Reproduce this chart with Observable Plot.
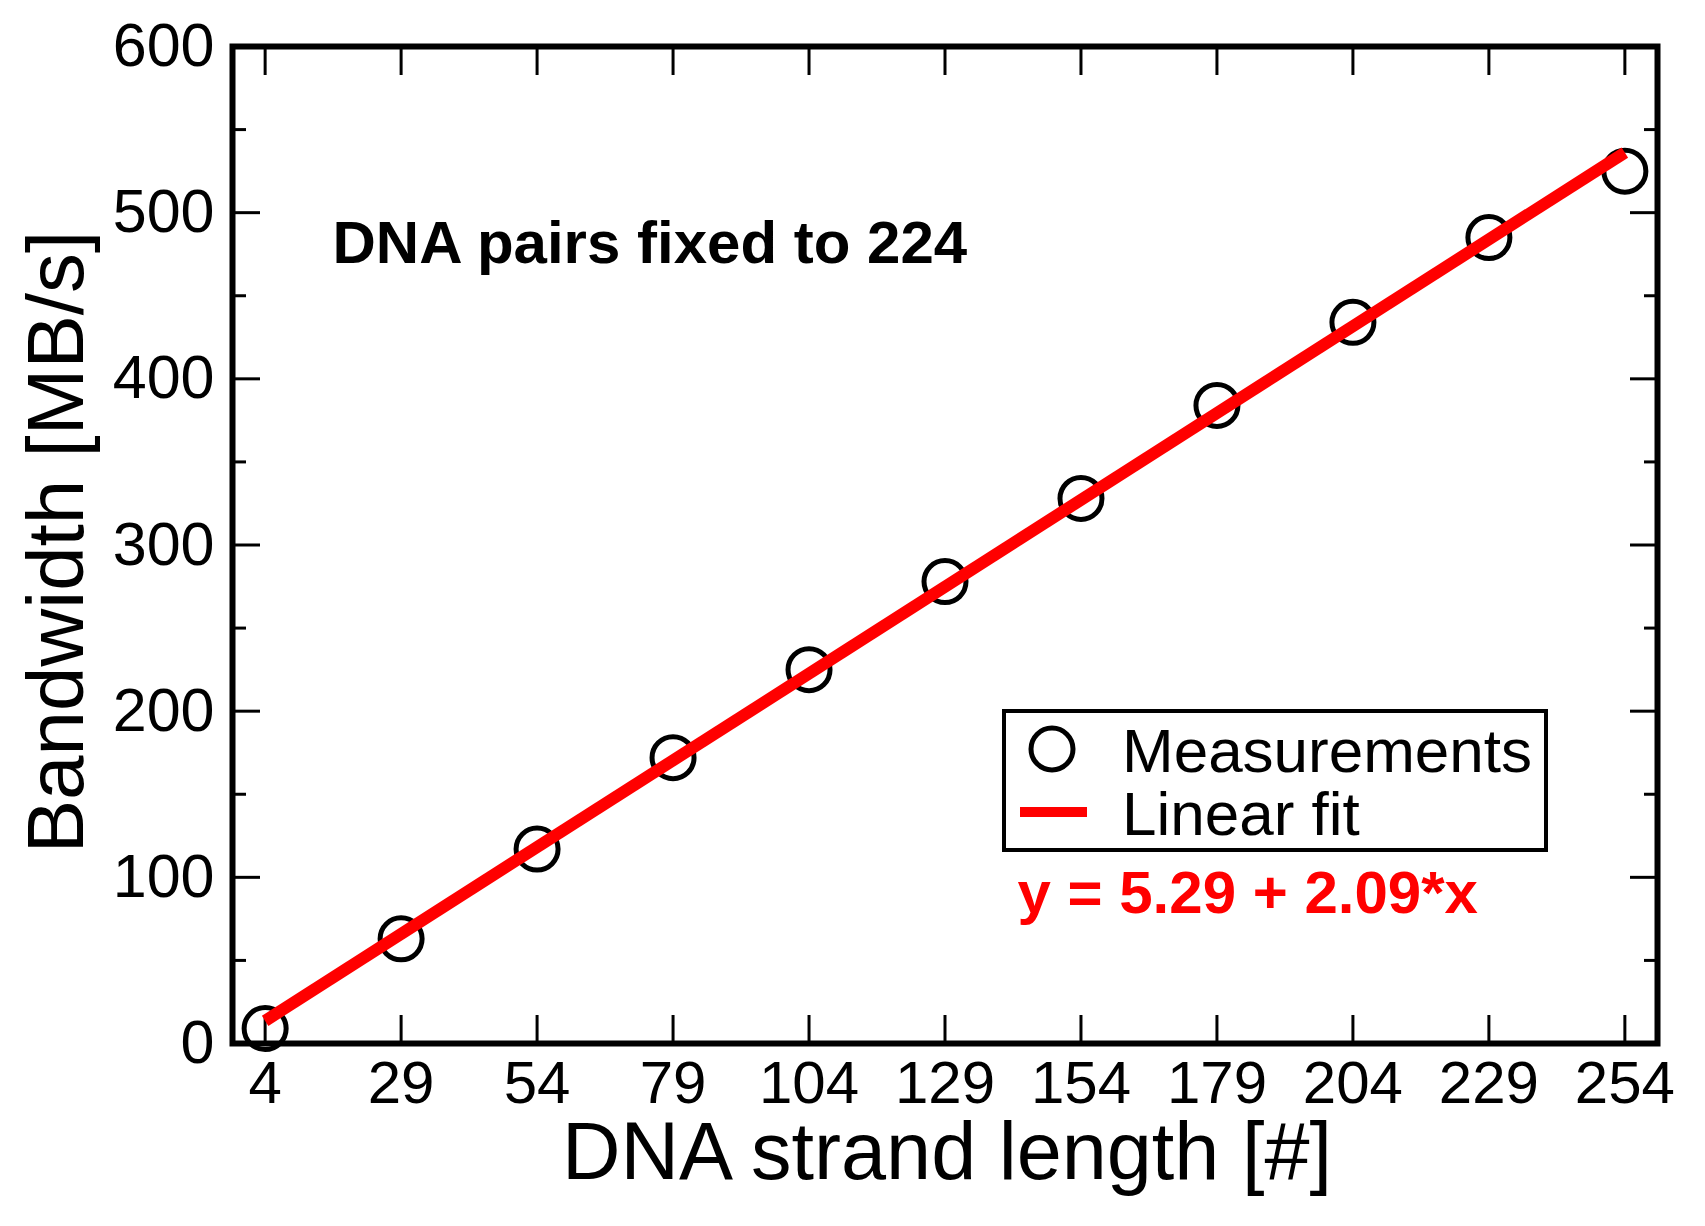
<!DOCTYPE html>
<html><head><meta charset="utf-8">
<script src="https://cdn.jsdelivr.net/npm/d3@7"></script>
<script src="https://cdn.jsdelivr.net/npm/@observablehq/plot@0.6"></script>
<style>body{margin:0;background:#fff}</style>
</head><body><div id="chart"></div>
<script>
// ---- data ----
const strandLength = [4, 29, 54, 79, 104, 129, 154, 179, 204, 229, 254];
const bandwidth    = [9, 63, 117, 172, 225, 278, 328, 384, 434, 485, 525];
const fitX = [4, 254];
const fitY = [13.65, 536.15];          // y = 5.29 + 2.09*x at the ends
const xTicks = [4, 29, 54, 79, 104, 129, 154, 179, 204, 229, 254];
const yTicks = [0, 100, 200, 300, 400, 500, 600];
const yMinor = [50, 150, 250, 350, 450, 550];
const annotation = "DNA pairs fixed to 224";
const fitLabel = "y = 5.29 + 2.09*x";
const legendLabels = ["Measurements", "Linear fit"];
const xTitle = "DNA strand length [#]";
const yTitle = "Bandwidth [MB/s]";

const points = strandLength.map((x, i) => ({x, y: bandwidth[i]}));
const fit = fitX.map((x, i) => ({x, y: fitY[i]}));
const font = "'Liberation Sans', Arial, Helvetica, sans-serif";
const blank = () => "";

const plot = Plot.plot({
  width: 1705, height: 1226,
  marginLeft: 232, marginRight: 48, marginTop: 46, marginBottom: 183,
  style: {fontFamily: font, background: "#fff", color: "#000"},
  x: {domain: [-2, 260]},
  y: {domain: [0, 600]},
  marks: [
    Plot.axisX({ticks: xTicks, anchor: "bottom", tickSize: -28, tickPadding: 45, fontSize: 60, strokeWidth: 3, label: null, tickFormat: d => String(d)}),
    Plot.axisX({ticks: xTicks, anchor: "top", tickSize: -28, tickFormat: blank, strokeWidth: 3, label: null}),
    Plot.axisY({ticks: yTicks, anchor: "left", tickSize: -28, tickPadding: 46, fontSize: 61, strokeWidth: 3, label: null, tickFormat: d => String(d)}),
    Plot.axisY({ticks: yMinor, anchor: "left", tickSize: -14, tickFormat: blank, strokeWidth: 3, label: null}),
    Plot.axisY({ticks: yTicks, anchor: "right", tickSize: -28, tickFormat: blank, strokeWidth: 3, label: null}),
    Plot.axisY({ticks: yMinor, anchor: "right", tickSize: -14, tickFormat: blank, strokeWidth: 3, label: null}),
    Plot.frame({stroke: "#000", strokeWidth: 6}),
    Plot.dot(points, {x: "x", y: "y", r: 21, stroke: "#000", strokeWidth: 5, fill: "none"}),
    Plot.line(fit, {x: "x", y: "y", stroke: "#ff0000", strokeWidth: 12, strokeLinecap: "butt"}),
    Plot.text([annotation], {text: d => d, frameAnchor: "top-left", dx: 100, dy: 216, textAnchor: "start", lineAnchor: "bottom", fontSize: 60, fontWeight: "bold", fill: "#000"}),
    Plot.text([fitLabel], {text: d => d, frameAnchor: "top-left", dx: 785, dy: 866, textAnchor: "start", lineAnchor: "bottom", fontSize: 60, fontWeight: "bold", fill: "#ff0000"}),
    Plot.text([xTitle], {text: d => d, frameAnchor: "bottom", dx: 2, dy: 135, textAnchor: "middle", lineAnchor: "bottom", fontSize: 81, fill: "#000"}),
    Plot.text([yTitle], {text: d => d, frameAnchor: "left", rotate: -90, dx: -150, dy: -3, textAnchor: "middle", lineAnchor: "bottom", fontSize: 80, fill: "#000"})
  ]
});
document.getElementById("chart").appendChild(plot);

// legend box (pixel layout inside the plot svg)
const svg = d3.select(plot);
const lg = svg.append("g").attr("font-family", font).attr("text-anchor", "start");
lg.append("rect").attr("x", 1004).attr("y", 711).attr("width", 542).attr("height", 139)
  .attr("fill", "#fff").attr("stroke", "#000").attr("stroke-width", 4);
lg.append("circle").attr("cx", 1052).attr("cy", 749).attr("r", 21)
  .attr("fill", "none").attr("stroke", "#000").attr("stroke-width", 5);
lg.append("line").attr("x1", 1020).attr("x2", 1087).attr("y1", 812).attr("y2", 812)
  .attr("stroke", "#ff0000").attr("stroke-width", 10);
lg.selectAll("text.lab").data(legendLabels).join("text").attr("class", "lab")
  .attr("x", 1122).attr("y", (d, i) => i === 0 ? 772 : 835)
  .attr("text-anchor", "start")
  .attr("font-size", 62).attr("fill", "#000").text(d => d);
</script>
</body></html>
